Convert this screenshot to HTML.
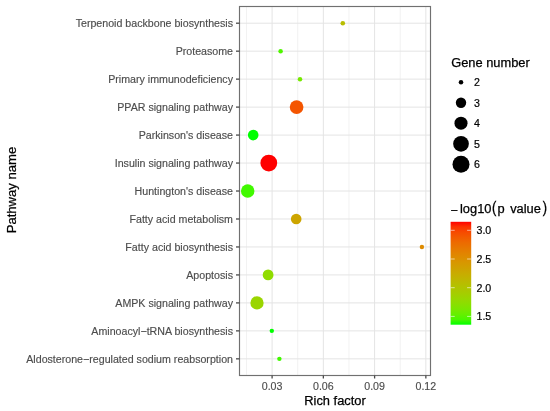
<!DOCTYPE html>
<html lang="en"><head><meta charset="utf-8"><title>Pathway enrichment</title>
<style>html,body{margin:0;padding:0;background:#fff}svg{display:block}text{font-family:"Liberation Sans",Arial,Helvetica,sans-serif}.a{font-size:10.65px;fill:#4d4d4d;stroke:#4d4d4d;stroke-width:.15px}.t{font-size:12.85px;fill:#000;stroke:#000;stroke-width:.25px}.l{font-size:10.64px;fill:#000;stroke:#000;stroke-width:.2px}</style></head><body>
<svg width="550" height="411" viewBox="0 0 550 411">
<rect width="550" height="411" fill="#fff"/>
<g stroke="#e8e8e8" stroke-width="0.6">
<line x1="246.48" x2="246.48" y1="6.5" y2="375.5"/>
<line x1="297.73" x2="297.73" y1="6.5" y2="375.5"/>
<line x1="348.98" x2="348.98" y1="6.5" y2="375.5"/>
<line x1="400.23" x2="400.23" y1="6.5" y2="375.5"/>
</g><g stroke="#e4e4e4" stroke-width="1">
<line x1="272.10" x2="272.10" y1="6.5" y2="375.5"/>
<line x1="323.35" x2="323.35" y1="6.5" y2="375.5"/>
<line x1="374.60" x2="374.60" y1="6.5" y2="375.5"/>
<line x1="425.85" x2="425.85" y1="6.5" y2="375.5"/>
<line x1="239.5" x2="430.5" y1="23.20" y2="23.20"/>
<line x1="239.5" x2="430.5" y1="51.17" y2="51.17"/>
<line x1="239.5" x2="430.5" y1="79.14" y2="79.14"/>
<line x1="239.5" x2="430.5" y1="107.11" y2="107.11"/>
<line x1="239.5" x2="430.5" y1="135.08" y2="135.08"/>
<line x1="239.5" x2="430.5" y1="163.05" y2="163.05"/>
<line x1="239.5" x2="430.5" y1="191.02" y2="191.02"/>
<line x1="239.5" x2="430.5" y1="218.99" y2="218.99"/>
<line x1="239.5" x2="430.5" y1="246.96" y2="246.96"/>
<line x1="239.5" x2="430.5" y1="274.93" y2="274.93"/>
<line x1="239.5" x2="430.5" y1="302.90" y2="302.90"/>
<line x1="239.5" x2="430.5" y1="330.87" y2="330.87"/>
<line x1="239.5" x2="430.5" y1="358.84" y2="358.84"/>
</g>
<circle cx="342.8" cy="23.20" r="2.30" fill="#B8BD00"/>
<circle cx="280.6" cy="51.17" r="2.25" fill="#50F600"/>
<circle cx="300.0" cy="79.14" r="2.25" fill="#76E900"/>
<circle cx="296.6" cy="107.11" r="6.85" fill="#F45500"/>
<circle cx="253.2" cy="135.08" r="5.30" fill="#00FF00"/>
<circle cx="268.8" cy="163.05" r="8.40" fill="#FF0000"/>
<circle cx="247.7" cy="191.02" r="6.75" fill="#41F900"/>
<circle cx="296.2" cy="218.99" r="5.30" fill="#CDA500"/>
<circle cx="421.9" cy="246.96" r="2.20" fill="#DE8B00"/>
<circle cx="268.1" cy="274.93" r="5.40" fill="#90DC00"/>
<circle cx="257.0" cy="302.90" r="6.65" fill="#9AD500"/>
<circle cx="271.8" cy="330.87" r="2.20" fill="#00FF00"/>
<circle cx="279.4" cy="358.84" r="2.20" fill="#41F900"/>
<rect x="239.5" y="6.5" width="191.0" height="369.0" fill="none" stroke="#707070" stroke-width="1.15"/>
<g stroke="#4a4a4a" stroke-width="1.3">
<line x1="236" x2="239.5" y1="23.20" y2="23.20"/>
<line x1="236" x2="239.5" y1="51.17" y2="51.17"/>
<line x1="236" x2="239.5" y1="79.14" y2="79.14"/>
<line x1="236" x2="239.5" y1="107.11" y2="107.11"/>
<line x1="236" x2="239.5" y1="135.08" y2="135.08"/>
<line x1="236" x2="239.5" y1="163.05" y2="163.05"/>
<line x1="236" x2="239.5" y1="191.02" y2="191.02"/>
<line x1="236" x2="239.5" y1="218.99" y2="218.99"/>
<line x1="236" x2="239.5" y1="246.96" y2="246.96"/>
<line x1="236" x2="239.5" y1="274.93" y2="274.93"/>
<line x1="236" x2="239.5" y1="302.90" y2="302.90"/>
<line x1="236" x2="239.5" y1="330.87" y2="330.87"/>
<line x1="236" x2="239.5" y1="358.84" y2="358.84"/>
<line x1="272.10" x2="272.10" y1="375.5" y2="378.5"/>
<line x1="323.35" x2="323.35" y1="375.5" y2="378.5"/>
<line x1="374.60" x2="374.60" y1="375.5" y2="378.5"/>
<line x1="425.85" x2="425.85" y1="375.5" y2="378.5"/>
</g>
<g class="a" text-anchor="end">
<text x="233" y="26.90">Terpenoid backbone biosynthesis</text>
<text x="233" y="54.87">Proteasome</text>
<text x="233" y="82.84">Primary immunodeficiency</text>
<text x="233" y="110.81">PPAR signaling pathway</text>
<text x="233" y="138.78">Parkinson's disease</text>
<text x="233" y="166.75">Insulin signaling pathway</text>
<text x="233" y="194.72">Huntington's disease</text>
<text x="233" y="222.69">Fatty acid metabolism</text>
<text x="233" y="250.66">Fatty acid biosynthesis</text>
<text x="233" y="278.63">Apoptosis</text>
<text x="233" y="306.60">AMPK signaling pathway</text>
<text x="233" y="334.57">Aminoacyl−tRNA biosynthesis</text>
<text x="233" y="362.54">Aldosterone−regulated sodium reabsorption</text>
</g>
<g class="a" text-anchor="middle">
<text x="272.10" y="389.9">0.03</text>
<text x="323.35" y="389.9">0.06</text>
<text x="374.60" y="389.9">0.09</text>
<text x="425.85" y="389.9">0.12</text>
</g>
<text class="t" text-anchor="middle" x="335" y="405">Rich factor</text>
<text class="t" style="font-size:13.1px" text-anchor="middle" transform="translate(15.6,190) rotate(-90)">Pathway name</text>
<text class="t" x="451.2" y="67">Gene number</text>
<circle cx="461" cy="82.3" r="2.25" fill="#000"/>
<text class="l" x="474" y="86.0">2</text>
<circle cx="461" cy="102.8" r="5.20" fill="#000"/>
<text class="l" x="474" y="106.5">3</text>
<circle cx="461" cy="123.2" r="6.55" fill="#000"/>
<text class="l" x="474" y="126.9">4</text>
<circle cx="461" cy="143.8" r="7.85" fill="#000"/>
<text class="l" x="474" y="147.5">5</text>
<circle cx="461" cy="164.3" r="8.50" fill="#000"/>
<text class="l" x="474" y="168.0">6</text>
<text class="t" style="font-size:13.4px;stroke:none" x="450.6" y="215.1">−</text>
<text class="t" y="213"><tspan x="460">log10</tspan><tspan x="497.4">p</tspan><tspan x="510.2">value</tspan></text>
<text class="t" font-size="12.85" transform="translate(492.1,213.2) scale(1,1.28)">(</text>
<text class="t" font-size="12.85" transform="translate(542.8,213.2) scale(1,1.28)">)</text>
<defs><linearGradient id="cb" x1="0" y1="0" x2="0" y2="1"><stop offset="0.00" stop-color="#FF0000"/><stop offset="0.05" stop-color="#FB3300"/><stop offset="0.10" stop-color="#F74A00"/><stop offset="0.15" stop-color="#F25B00"/><stop offset="0.20" stop-color="#ED6A00"/><stop offset="0.25" stop-color="#E87600"/><stop offset="0.30" stop-color="#E38200"/><stop offset="0.35" stop-color="#DD8D00"/><stop offset="0.40" stop-color="#D79800"/><stop offset="0.45" stop-color="#D0A100"/><stop offset="0.50" stop-color="#C9AB00"/><stop offset="0.55" stop-color="#C1B400"/><stop offset="0.60" stop-color="#B8BD00"/><stop offset="0.65" stop-color="#AEC600"/><stop offset="0.70" stop-color="#A4CE00"/><stop offset="0.75" stop-color="#98D700"/><stop offset="0.80" stop-color="#8ADF00"/><stop offset="0.85" stop-color="#7AE700"/><stop offset="0.90" stop-color="#65EF00"/><stop offset="0.95" stop-color="#49F700"/><stop offset="1.00" stop-color="#00FF00"/></linearGradient></defs>
<rect x="450.6" y="221.8" width="20.6" height="102.90" fill="url(#cb)"/>
<g stroke="#fff" stroke-width="0.6">
<line x1="450.6" x2="454.7" y1="316.40" y2="316.40"/><line x1="467.1" x2="471.2" y1="316.40" y2="316.40"/>
<line x1="450.6" x2="454.7" y1="287.70" y2="287.70"/><line x1="467.1" x2="471.2" y1="287.70" y2="287.70"/>
<line x1="450.6" x2="454.7" y1="259.00" y2="259.00"/><line x1="467.1" x2="471.2" y1="259.00" y2="259.00"/>
<line x1="450.6" x2="454.7" y1="230.30" y2="230.30"/><line x1="467.1" x2="471.2" y1="230.30" y2="230.30"/>
</g>
<text class="l" x="476.5" y="320.20">1.5</text>
<text class="l" x="476.5" y="291.50">2.0</text>
<text class="l" x="476.5" y="262.80">2.5</text>
<text class="l" x="476.5" y="234.10">3.0</text>
</svg></body></html>
